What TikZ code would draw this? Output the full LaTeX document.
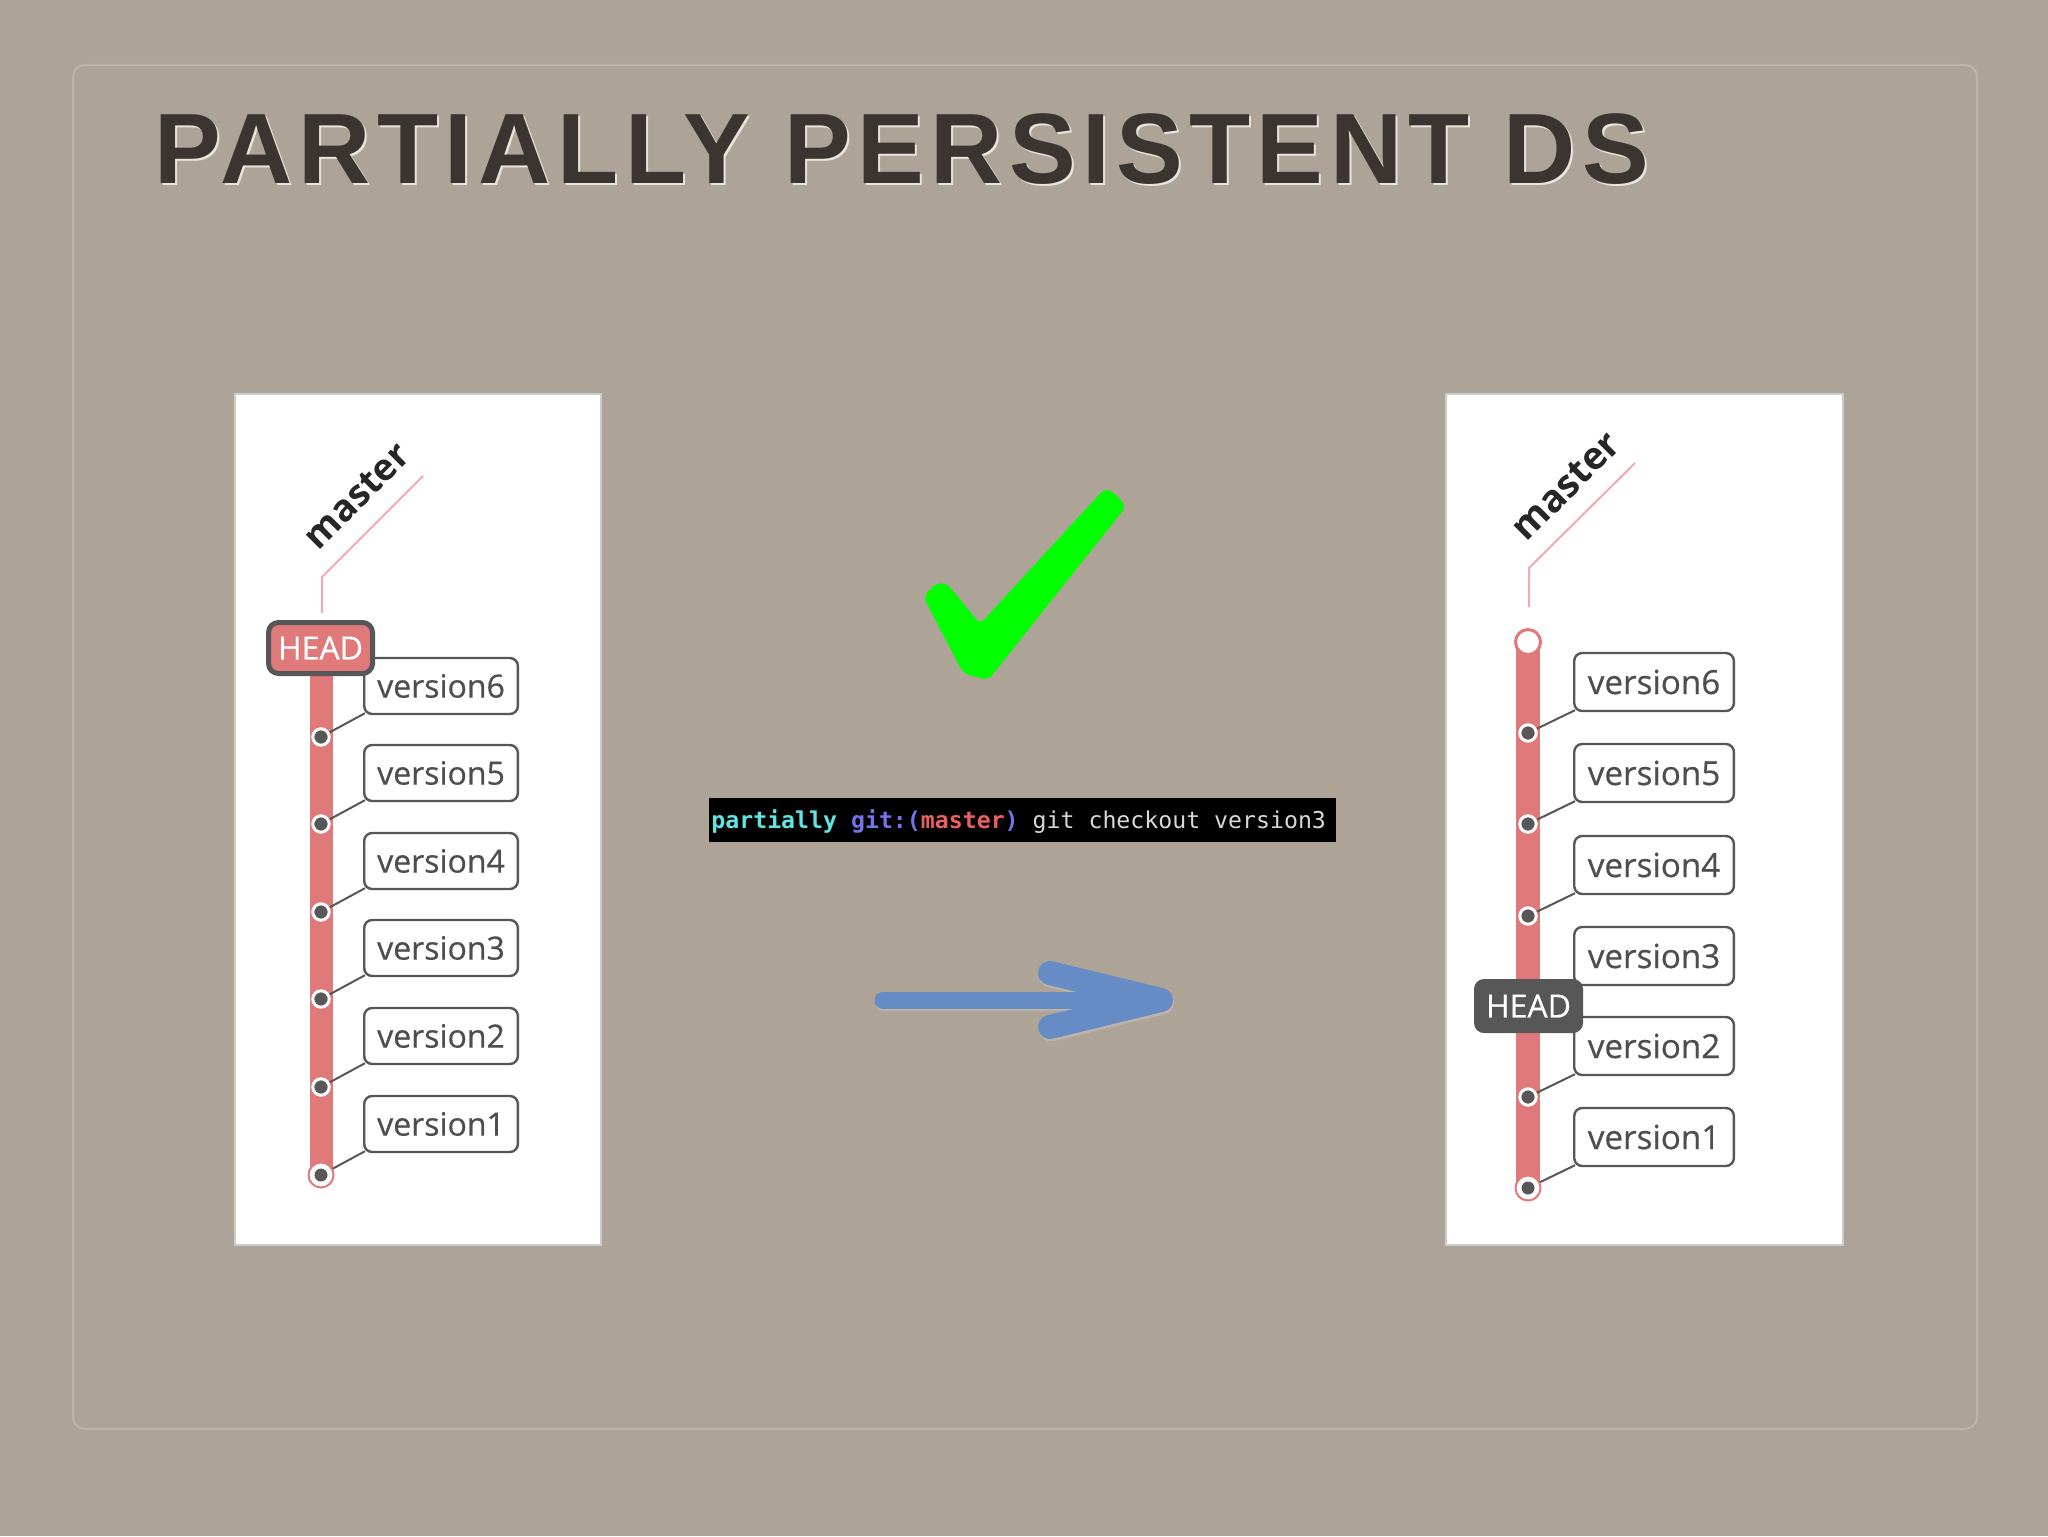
\documentclass[tikz,border=0pt]{standalone}
\usepackage{fontspec}
\usetikzlibrary{calc}
\setmainfont{Open Sans}
\newfontfamily\verfont[FakeBold=0.5]{Open Sans}
\newfontfamily\titlefont[LetterSpace=6.4]{Liberation Sans}
\newfontfamily\termfont{DejaVu Sans Mono}
\definecolor{bgc}{HTML}{ADA397}
\definecolor{framec}{HTML}{BEB5A9}
\definecolor{railc}{HTML}{E07A7A}
\definecolor{darkc}{HTML}{575757}
\definecolor{textc}{HTML}{4E4E4E}
\definecolor{pinkc}{HTML}{F2A9B0}
\definecolor{titlec}{HTML}{3A3531}
\definecolor{shadowc}{HTML}{E9E5DD}
\definecolor{chkc}{HTML}{00FF00}
\definecolor{arrc}{HTML}{658CC4}
\definecolor{tcyan}{HTML}{5FE5E2}
\definecolor{tblue}{HTML}{7373EA}
\definecolor{tred}{HTML}{EA6060}
\definecolor{tgray}{HTML}{D8D8D8}
\pgfdeclarelayer{bg}
\pgfdeclarelayer{mid}
\pgfsetlayers{bg,mid,main}
\tikzset{
  verbox/.style={draw=darkc, line width=1.2pt, rounded corners=4pt, fill=white, text=textc,
    inner xsep=6.5pt, inner ysep=0pt, minimum height=28pt, anchor=west,
    font=\verfont\fontsize{16}{16}\selectfont},
  verboxr/.style={verbox, minimum height=29pt, inner xsep=6.8pt, font=\verfont\fontsize{16.6}{16.6}\selectfont},
  commit/.style={circle, fill=darkc, draw=white, line width=1.5pt, minimum size=8.2pt, inner sep=0pt},
  tailring/.style={circle, fill=white, draw=railc, line width=1pt, minimum size=12.5pt, inner sep=0pt},
  tailcore/.style={circle, fill=darkc, minimum size=6.5pt, inner sep=0pt},
  topring/.style={circle, fill=white, draw=railc, line width=1.5pt, minimum size=12.5pt, inner sep=0pt},
  conn/.style={draw=darkc, line width=1pt},
  railline/.style={draw=railc, line width=11.5pt},
  pinkline/.style={draw=pinkc, line width=1pt},
  masterlbl/.style={font=\bfseries\fontsize{18.5}{18.5}\selectfont, text=black!85, rotate=45, inner sep=0pt},
  headred/.style={fill=railc, draw=darkc, line width=2.5pt, rounded corners=5pt, text=white,
    minimum width=52pt, minimum height=25.5pt, inner sep=0pt, font=\verfont\fontsize{16}{16}\selectfont},
  headdark/.style={fill=darkc, rounded corners=5pt, text=white,
    minimum width=54.5pt, minimum height=27pt, inner sep=0pt, font=\verfont\fontsize{16}{16}\selectfont},
}
\begin{document}
\begin{tikzpicture}[x=0.5pt,y=-0.5pt]
\useasboundingbox (0,0) rectangle (2048,1536);
\begin{pgfonlayer}{bg}
\fill[bgc] (0,0) rectangle (2048,1536);
\draw[framec, line width=1pt, rounded corners=6pt] (73,65) rectangle (1977,1429);
\fill[white] (235,394) rectangle (601,1245);
\draw[black!20, line width=0.8pt] (235,394) rectangle (601,1245);
\fill[white] (1446,394) rectangle (1843,1245);
\draw[black!20, line width=0.8pt] (1446,394) rectangle (1843,1245);
\end{pgfonlayer}

% title
\node[anchor=base west, inner sep=0pt, text=shadowc, font=\titlefont\bfseries\fontsize{50}{50}\selectfont] (titleshadow) at (156,185.5) {PARTIALLY PERSISTENT DS};
\node[anchor=base west, inner sep=0pt, text=titlec, font=\titlefont\bfseries\fontsize{50}{50}\selectfont] (title) at (154,183) {PARTIALLY PERSISTENT DS};

% ---------- left graph ----------
\begin{pgfonlayer}{bg}
\draw[railline] (321,660) -- (321,1175);
\end{pgfonlayer}
\draw[pinkline] (423,476) -- (322,577) -- (322,613);
\node[masterlbl] (mL) at (357,496) {master};
\foreach \n/\y in {6/737,5/824,4/912,3/999,2/1087}{
  \node[commit] (cL\n) at (321,\y) {};
}
\node[tailring] (cL1) at (321,1175) {};
\node[tailcore] (cL1c) at (321,1175) {};
\foreach \n/\y in {6/737,5/824,4/912,3/999,2/1087,1/1175}{
  \node[verbox] (vL\n) at (363,\y-51) {version\n};
}
\begin{pgfonlayer}{mid}
\foreach \n in {1,...,6}{
  \draw[conn] (cL\n.center) -- ($(vL\n.south west)+(2,-2)$);
}
\end{pgfonlayer}
\node[headred] (headL) at (320.5,648) {HEAD};

% ---------- right graph ----------
\begin{pgfonlayer}{bg}
\draw[railline, line width=12pt] (1528,642) -- (1528,1188);
\end{pgfonlayer}
\draw[pinkline] (1635,463) -- (1529,568) -- (1529,607);
\node[masterlbl, font=\bfseries\fontsize{19}{19}\selectfont] (mR) at (1566,486) {master};
\node[topring] (topR) at (1528,642) {};
\foreach \n/\y in {6/733,5/824,4/916,3/1007,2/1097}{
  \node[commit] (cR\n) at (1528,\y) {};
}
\node[tailring] (cR1) at (1528,1188) {};
\node[tailcore] (cR1c) at (1528,1188) {};
\foreach \n/\y in {6/733,5/824,4/916,3/1007,2/1097,1/1188}{
  \node[verboxr] (vR\n) at (1573,\y-51) {version\n};
}
\begin{pgfonlayer}{mid}
\foreach \n in {1,...,6}{
  \draw[conn] (cR\n.center) -- ($(vR\n.south west)+(2,-2)$);
}
\end{pgfonlayer}
\node[headdark] (headR) at (1528.5,1006) {HEAD};

% ---------- check mark ----------
\fill[chkc, rounded corners=3pt] (923.3,596.7) -- (936.7,582.7) -- (947.3,584) -- (980,624)
  -- (1105,488.3) -- (1115,493.3) -- (1126,506.7) -- (988.3,680) -- (975,676.7) -- (963.3,673.3) -- cycle;

% ---------- terminal command ----------
\fill[black] (709,798) rectangle (1336,842);
\node[anchor=base west, inner sep=0pt, font=\termfont\fontsize{11.6}{11.6}\selectfont] (cmd) at (711,828)
  {\textcolor{tcyan}{\bfseries partially} \textcolor{tblue}{\bfseries git:(}\textcolor{tred}{\bfseries master}\textcolor{tblue}{\bfseries )} \textcolor{tgray}{git checkout version3}};

% ---------- arrow ----------
\draw[white, opacity=0.18, line width=8.5pt, line cap=round] (884,1002.5) -- (1151,1002.5);
\draw[white, opacity=0.18, line width=12pt, line cap=round, line join=round] (1051,975.5) -- (1162,1002.5) -- (1051,1029.5);
\draw[arrc, line width=8.5pt, line cap=round] (883,1000) -- (1150,1000);
\draw[arrc, line width=12pt, line cap=round, line join=round] (1050,973) -- (1161,1000) -- (1050,1027);
\end{tikzpicture}
\end{document}
